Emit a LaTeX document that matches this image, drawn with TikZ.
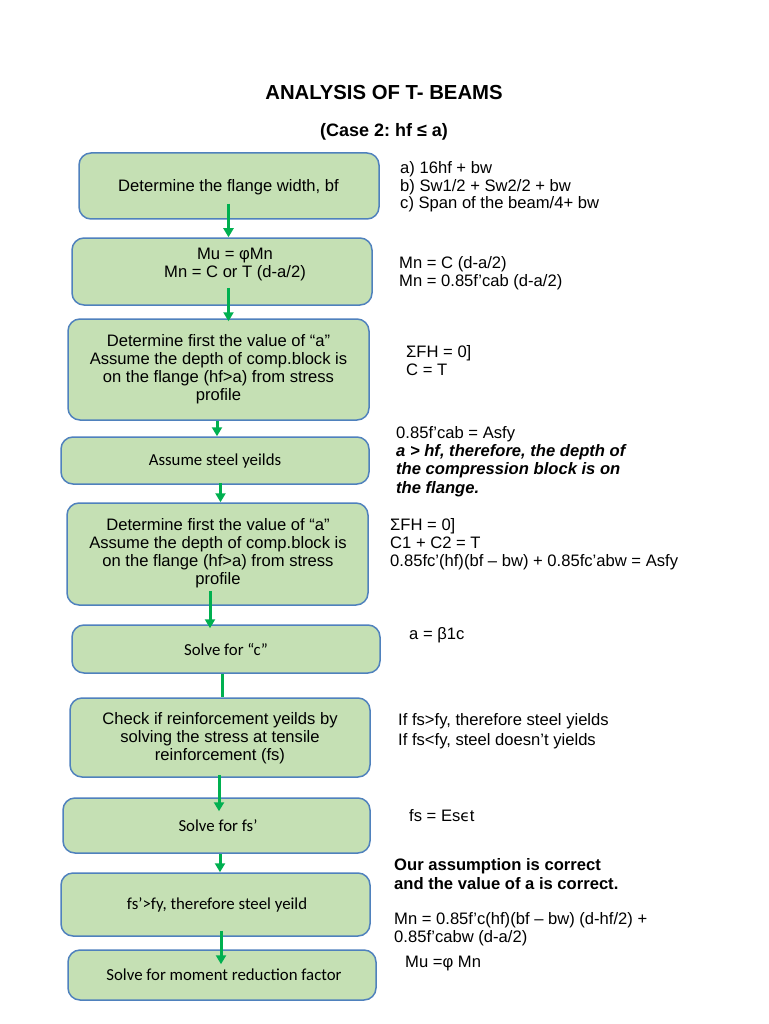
\documentclass[tikz,border=0pt]{standalone}
\usepackage{fontspec}
\setmainfont{Liberation Sans}
\newfontfamily\calfont{Carlito}
\newfontfamily\dvfont{DejaVu Sans}
\usetikzlibrary{arrows.meta}
\definecolor{boxfill}{RGB}{197,224,180}
\definecolor{boxline}{RGB}{79,129,189}
\definecolor{arrgreen}{RGB}{0,176,80}
\frenchspacing
\begin{document}
\frenchspacing
\begin{tikzpicture}[x=1pt,y=-1pt,
 box/.style={draw=boxline, line width=1.5pt, fill=boxfill, rounded corners=12pt, inner sep=0pt},
 btext/.style={align=center, font=\fontsize{16.6}{18}\selectfont, inner sep=0pt},
 ctext/.style={font=\calfont\fontsize{16.8}{18}\selectfont, inner sep=0pt},
 rtext/.style={align=left, anchor=west, font=\fontsize{16.6}{18}\selectfont, inner sep=0pt},
 arr/.style={draw=arrgreen, line width=3pt, -{Triangle[width=10pt,length=9pt]}},
 plainline/.style={draw=arrgreen, line width=3pt},
 ]
\useasboundingbox (0,0) rectangle (768,1024);
\fill[white] (0,0) rectangle (768,1024);

% titles
\node[font=\bfseries\fontsize{20.3}{24}\selectfont, inner sep=0pt] (title) at (384,93) {ANALYSIS OF T- BEAMS};
\node[font=\bfseries\fontsize{18}{22}\selectfont, inner sep=0pt] (subtitle) at (384,132) {(Case 2: hf ≤ a)};

% boxes
\node[box, minimum width=300pt, minimum height=66pt] (b1) at (229,186) {};
\node[box, minimum width=300pt, minimum height=67pt] (b2) at (222,271.5) {};
\node[box, minimum width=301pt, minimum height=101pt] (b3) at (218.5,369.5) {};
\node[box, minimum width=308pt, minimum height=47pt] (b4) at (215,460.5) {};
\node[box, minimum width=301pt, minimum height=102pt] (b5) at (217.5,554) {};
\node[box, minimum width=308pt, minimum height=48pt] (b6) at (226,649) {};
\node[box, minimum width=300pt, minimum height=79pt] (b7) at (220,737.5) {};
\node[box, minimum width=307pt, minimum height=55pt] (b8) at (216.5,825.5) {};
\node[box, minimum width=309pt, minimum height=63pt] (b9) at (215.5,904.5) {};
\node[box, minimum width=308pt, minimum height=50pt] (b10) at (222,975) {};

% box texts
\node[btext] (t1) at (228.5,187) {Determine the flange width, bf};
\node[btext] (t2) at (235,265) {Mu = φMn\\Mn = C or T (d-a/2)};
\node[btext] (t3) at (218.5,369) {Determine first the value of “a”\\Assume the depth of comp.block is\\on the flange (hf>a) from stress\\profile};
\node[ctext] (t4) at (215,461) {Assume steel yeilds};
\node[btext] (t5) at (218,553) {Determine first the value of “a”\\Assume the depth of comp.block is\\on the flange (hf>a) from stress\\profile};
\node[ctext] (t6) at (226,649) {Solve for “c”};
\node[btext] (t7) at (220,738) {Check if reinforcement yeilds by\\solving the stress at tensile\\reinforcement (fs)};
\node[ctext] (t8) at (218,826) {Solve for fs’};
\node[ctext] (t9) at (217,905) {fs’>fy, therefore steel yeild};
\node[ctext] (t10) at (224,975) {Solve for moment reduction factor};

% arrows
\coordinate (x1) at (228.5,0);
\coordinate (x3) at (217,0);
\coordinate (x4) at (220.5,0);
\coordinate (x5) at (210,0);
\coordinate (x6) at (222,0);
\coordinate (x7) at (219,0);
\coordinate (x8) at (220,0);
\coordinate (x9) at (221,0);
\draw[arr] (b1.south -| x1) ++(0,-16) -- (b2.north -| x1);
\draw[arr] (b2.south -| x1) ++(0,-18) -- ([yshift=-3pt]b3.north -| x1);
\draw[arr] (b3.south -| x3) -- (b4.north -| x3);
\draw[arr] (b4.south -| x4) ++(0,-2) -- (b5.north -| x4);
\draw[arr] (b5.south -| x5) ++(0,-15) -- ([yshift=-4pt]b6.north -| x5);
\draw[plainline] (b6.south -| x6) -- (b7.north -| x6);
\draw[arr] (b7.south -| x7) ++(0,-3) -- ([yshift=-14pt]b8.north -| x7);
\draw[arr] (b8.south -| x8) -- (b9.north -| x8);
\draw[arr] (b9.south -| x9) ++(0,-6) -- ([yshift=-15pt]b10.north -| x9);

% right-hand notes
\node[rtext, font=\fontsize{16.6}{17.5}\selectfont] (r1) at (400,187) {a) 16hf + bw\\b) Sw1/2 + Sw2/2 + bw\\c) Span of the beam/4+ bw};
\node[rtext] (r2) at (399,273) {Mn = C (d-a/2)\\Mn = 0.85f’cab (d-a/2)};
\node[rtext] (r3) at (406,361) {ΣFH = 0]\\C = T};
\node[rtext, font=\fontsize{16.6}{18.3}\selectfont] (r4) at (396,461.5) {0.85f’cab = Asfy\\\textbf{\textit{a > hf, therefore, the depth of}}\\\textbf{\textit{the compression block is on}}\\\textbf{\textit{the flange.}}};
\node[rtext] (r5) at (390,544) {ΣFH = 0]\\C1 + C2 = T\\0.85fc’(hf)(bf – bw) + 0.85fc’abw = Asfy};
\node[rtext] (r6) at (409,635) {a = β1c};
\node[rtext, font=\fontsize{16.6}{20}\selectfont] (r7) at (398,731) {If fs>fy, therefore steel yields\\If fs<fy, steel doesn’t yields};
\node[rtext] (r8) at (409,816) {fs = Es{\dvfont\fontsize{15.5}{18}\selectfont ϵ}t};
\node[rtext, font=\bfseries\fontsize{16.6}{19}\selectfont] (r9) at (394,874.5) {Our assumption is correct\\and the value of a is correct.};
\node[rtext] (r10) at (394,929) {Mn = 0.85f’c(hf)(bf – bw) (d-hf/2) +\\0.85f’cabw (d-a/2)};
\node[rtext] (r11) at (405,963) {Mu =φ Mn};
\end{tikzpicture}
\end{document}
